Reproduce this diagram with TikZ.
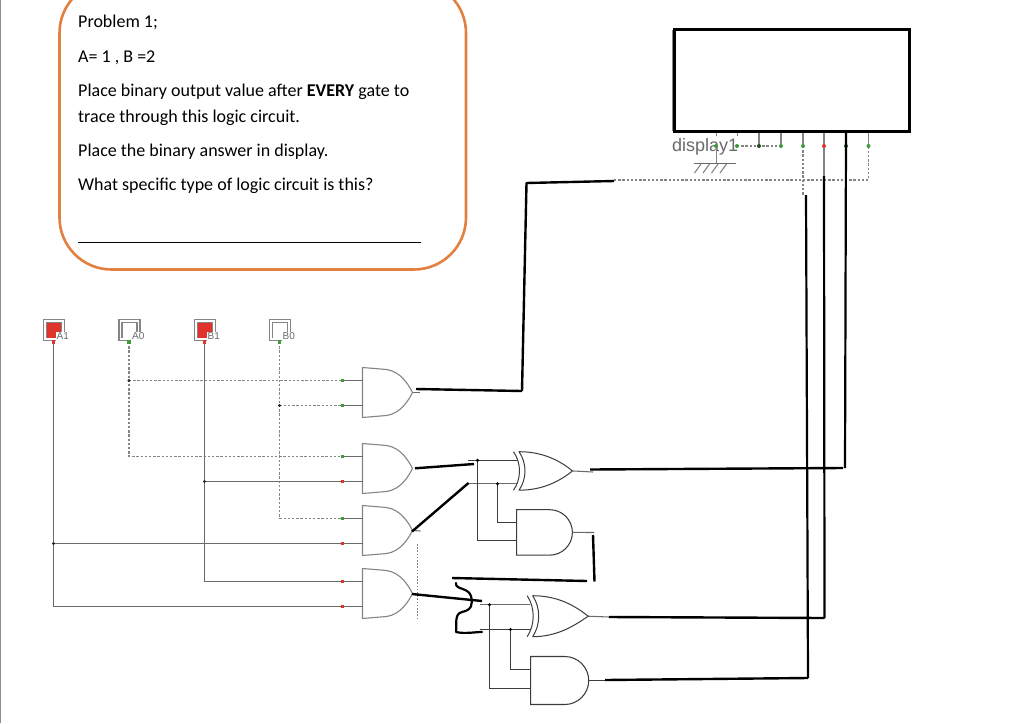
\documentclass[tikz,border=0pt]{standalone}
\usepackage{fontspec}
\setmainfont{Carlito}
\newfontfamily\lsans{Liberation Sans}
\usetikzlibrary{calc}
\definecolor{wg}{HTML}{6A6A6A}
\definecolor{gg}{HTML}{858585}
\definecolor{dg}{HTML}{3C3C3C}
\definecolor{org}{HTML}{E2803F}
\definecolor{pinr}{HTML}{E0332B}
\definecolor{ping}{HTML}{3F9A3A}
\tikzset{
  x=1pt,y=-1pt,
  wire/.style={draw=wg,line width=1.05pt},
  dwire/.style={draw=gg,line width=1.05pt,dash pattern=on 2.4pt off 1.8pt},
  thick wire/.style={draw=black,line width=2.4pt,line join=round},
  thin wire/.style={draw=dg,line width=1pt},
  txt/.style={anchor=base west,inner sep=0pt,font=\fontsize{18}{20}\selectfont},
  plabel/.style={anchor=base west,inner sep=0pt,text=wg,font=\lsans\fontsize{10}{10}\selectfont},
  pics/gand/.style={code={
    \draw[draw=gg,line width=1.1pt,line join=round] (0,0) -- (0,50) -- (24,48) .. controls (38,46) and (46,33) .. (50,25) .. controls (46,17) and (38,4) .. (24,2) -- cycle;
    \coordinate (-a) at (0,13);
    \coordinate (-b) at (0,38);
    \coordinate (-pa) at (-20,13);
    \coordinate (-pb) at (-20,38);
    \coordinate (-o) at (50,25);
    \draw[wire] (-pa) -- (-a);
    \draw[wire] (-pb) -- (-b);
  }},
  pics/xorg/.style args={#1/#2}{code={
    \draw[dg,line width=1pt,line join=round] (0,0) .. controls (24,0) and (41,9) .. (#1,{#2/2}) .. controls (41,{#2/2+10}) and (24,#2) .. (0,#2) .. controls (8,{#2*0.7}) and (8,{#2*0.3}) .. cycle;
    \draw[dg,line width=1pt] (-5.5,0) .. controls (2.5,{#2*0.3}) and (2.5,{#2*0.7}) .. (-5.5,#2);
    \coordinate (-o) at (#1,{#2/2});
  }},
  pics/dand/.style args={#1/#2}{code={
    \draw[draw=dg,line width=1.05pt] (0,0) -- (#1,0) arc[start angle=-90,end angle=90,radius=#2] -- (0,{2*#2}) -- cycle;
    \coordinate (-o) at ({#1+#2},#2);
  }},
  pics/inbox/.style args={#1/#2}{code={
    \draw[draw=gg,line width=1.3pt] (0,0) rectangle (21,21);
    \fill[white] (1,1) rectangle (20,20);
    \fill[#1] (3,3) rectangle (18,18);
    \draw[draw=gg,line width=1.3pt] (3,18) -- (3,3) -- (18,3) -- (18,13);
    \fill[white] (12,12) rectangle (26,23);
    \node[plabel] at (13,19.8) {#2};
    \coordinate (-p) at (10,22.5);
  }},
}
\begin{document}
\begin{tikzpicture}
\useasboundingbox (0,0) rectangle (1024,723);
\clip (0,0) rectangle (1024,723);
\fill[white] (0,0) rectangle (1024,723);
\fill[gray!90] (0,0) rectangle (1,723);

% problem box
\draw[org,line width=2.6pt,rounded corners=52pt] (59.5,-19) rectangle (466,269.5);
\node[txt] (t1) at (78,27.6) {Problem 1;};
\node[txt] (t2) at (78,62) {A= 1 , B =2};
\node[txt] (t3) at (78,96) {Place binary output value after \textbf{EVERY} gate to};
\node[txt] (t4) at (78,122.6) {trace through this logic circuit.};
\node[txt] (t5) at (78,156.6) {Place the binary answer in display.};
\node[txt] (t6) at (78,190.6) {What specific type of logic circuit is this?};
\coordinate (la) at (78,242.5);
\coordinate (lb) at (421,242.5);
\draw[black,line width=0.9pt] (la) -- (lb);

% inputs
\pic (A1) at (43.5,319.5) {inbox={pinr/A1}};
\pic (A0) at (119,319.5) {inbox={white/A0}};
\pic (B1) at (194.5,319.5) {inbox={pinr/B1}};
\pic (B0) at (269.5,319.5) {inbox={white/B0}};

% AND gates (left)
\pic (g1) at (362.5,367.5) {gand};
\pic (g2) at (362.5,443.5) {gand};
\pic (g3) at (362.5,505.5) {gand};
\pic (g4) at (362.5,568.5) {gand};

% junctions
\coordinate (j1) at (A0-p |- g1-a);
\coordinate (j2) at (B0-p |- g1-b);
\coordinate (j3) at (B1-p |- g2-b);
\coordinate (j4) at (A1-p |- g3-b);

\draw[dwire] (A0-p) |- (g2-pa);
\draw[dwire] (j1) -- (g1-pa);
\draw[dwire] (B0-p) |- (g3-pa);
\draw[dwire] (j2) -- (g1-pb);
\draw[wire] (B1-p) |- (g4-a);
\draw[wire] (A1-p) |- (g4-b);
\draw[wire] (j3) -- (g2-b);
\draw[wire] (j4) -- (g3-b);
\foreach \j in {j1,j2,j3,j4} \fill[black!85] (\j) circle (1.7pt);
\foreach \n/\c in {A1-p/pinr,A0-p/ping,B1-p/pinr,B0-p/ping,
  g1-pa/ping,g1-pb/ping,g2-pa/ping,g2-pb/pinr,g3-pa/ping,g3-pb/pinr,g4-pa/pinr,g4-pb/pinr}
  \fill[\c] ($(\n)+(-1.7,-1.7)$) rectangle ++(3.4,3.4);

\coordinate (dota) at (417.5,544);
\coordinate (dotb) at (417.5,619);
\draw[draw=gg,line width=0.7pt,dash pattern=on 1.6pt off 1.6pt] (dota) -- (dotb);
\coordinate (s3) at (420.5,531);
\draw[wire] (g3-o) -- (s3);
\coordinate (s1) at (420,392.5);
\draw[wire] (g1-o) -- (s1);

% right logic
\pic (x1) at (519,451.7) {xorg={53.5/38.5}};
\pic (x2) at (532.7,595.7) {xorg={55.5/41}};
\pic (d1) at (516.7,509.7) {dand={33/22.7}};
\pic (d2) at (530.7,656.5) {dand={34/24}};

\coordinate (x1a) at (468,460.3);
\coordinate (x1ae) at (517,460.3);
\coordinate (x1b) at (468,483.7);
\coordinate (x1be) at (517.5,483.7);
\coordinate (j5) at (477.5,460.3);
\coordinate (j6) at (497.5,483.7);
\coordinate (d1a) at (516.7,522.5);
\coordinate (d1b) at (516.7,540);
\draw[thin wire] (x1a) -- (x1ae);
\draw[wire] (x1b) -- (x1be);
\draw[thin wire] (j5) |- (d1b);
\draw[thin wire] (j6) |- (d1a);
\fill[black] (j5) circle (1.7pt);
\fill[black] (j6) circle (1.7pt);

\coordinate (x2a) at (480,604.7);
\coordinate (x2ae) at (530,604.7);
\coordinate (x2b) at (480,629.5);
\coordinate (x2be) at (531,629.5);
\coordinate (j7) at (489.5,604.7);
\coordinate (j8) at (510.5,629.5);
\coordinate (d2a) at (530.7,669.5);
\coordinate (d2b) at (530.7,688);
\draw[wire] (x2a) -- (x2ae);
\draw[thin wire] (x2b) -- (x2be);
\draw[thin wire] (j7) |- (d2b);
\draw[thin wire] (j8) |- (d2a);
\fill[black] (j7) circle (1.7pt);
\fill[black] (j8) circle (1.7pt);

\coordinate (x1s) at (593,472);
\coordinate (x2s) at (609,617);
\coordinate (d1s) at (594,532.5);
\coordinate (d2s) at (607,680.5);
\draw[wire] (x1-o) -- (x1s);
\draw[wire] (x2-o) -- (x2s);
\draw[wire] (d1-o) -- (d1s);
\draw[thin wire] (d2-o) -- (d2s);

% display
\coordinate (da) at (674,29);
\coordinate (db) at (909,131);
\draw[draw=black,line width=3pt] (da) rectangle (db);
\draw[draw=gg,line width=1pt] (672.3,30) -- (672.3,131);

\foreach \n/\x in {p1/716,p2/737,p3/759,p4/781,p5/803,p6/824,p7/846,p8/868.5} {
  \coordinate (\n) at (\x,146);
  \coordinate (\n t) at (\x,133);
}
\foreach \n in {p3,p4,p5,p6,p7,p8} \draw[draw=gg,line width=1.1pt] (\n t) -- (\n);
\foreach \n in {p1,p2} \draw[draw=gg,line width=1pt] (\n t) -- ++(0,2.5);
\draw[dwire] (p2) -- (p4);
\node[anchor=base west,inner sep=0pt,text=wg,font=\lsans\fontsize{18}{18}\selectfont] (dl) at (672,151) {display1};
\coordinate (gt) at (716,163.5);
\coordinate (gl) at (693.5,163.5);
\coordinate (gr) at (736,163.5);
\draw[draw=gg,line width=1pt] (p1) -- (gt);
\draw[draw=wg,line width=1pt] (gl) -- (gr);
\foreach \q in {0,1,2,3} \draw[draw=gg,line width=1.1pt] ({701+\q*8.5},164) -- ++(-6.5,9);
\coordinate (dd1) at (614,180);
\coordinate (dd2) at (868.5,180);
\draw[dwire] (dd1) -- (dd2) -- (p8);
\coordinate (dd3) at (803,195);
\draw[dwire] (p5) -- (dd3);
\coordinate (dd4) at (824,196);
\draw[draw=gg,line width=1.1pt] (p6) -- (dd4);
\foreach \n/\c in {p1/ping,p2/ping,p3/ping!50!black,p4/ping,p5/ping,p6/pinr,p7/ping!60!black,p8/ping}
  \fill[\c] (\n) circle (2pt);

% hand-drawn thick lines
\coordinate (h1) at (416,389);
\coordinate (h2) at (522,391);
\coordinate (h3) at (526.5,183);
\coordinate (h4) at (614,181);
\draw[thick wire] (h1) -- (h2);
\draw[thick wire] (h2) -- (h3) -- (h4);
\coordinate (h5) at (415,468.3);
\coordinate (h6) at (474,464);
\draw[thick wire] (h5) -- (h6);
\coordinate (h7) at (412,531.5);
\coordinate (h8) at (468.5,483);
\draw[thick wire] (h7) -- (h8);
\coordinate (h9) at (412,594);
\coordinate (h10) at (482,601);
\draw[thick wire] (h9) -- (h10);
\coordinate (h11) at (452,578);
\coordinate (h12) at (587,581);
\draw[thick wire] (h11) -- (h12);
\coordinate (h13) at (593,535);
\coordinate (h14) at (594.5,581.5);
\draw[thick wire] (h13) -- (h14);
\coordinate (h15) at (456,583);
\coordinate (h16) at (482,632);
\draw[draw=black,line width=2.2pt,line cap=round,line join=round] (h15) .. controls (455,590) and (468,587) .. (471,596) .. controls (473,604) and (472,610) .. (462,612) .. controls (454,614) and (457,624) .. (456,632) .. controls (465,634) and (475,632) .. (h16);
\coordinate (h17) at (590,469.5);
\coordinate (h18) at (843,468);
\draw[thick wire] (h17) -- (h18);
\coordinate (h19) at (846,133);
\coordinate (h20) at (845,468);
\draw[thick wire,line width=2.2pt] (h19) -- (h20);
\coordinate (h21) at (609,617);
\coordinate (h22) at (824.5,618);
\draw[thick wire] (h21) -- (h22);
\coordinate (h23) at (824,176);
\draw[thick wire,line width=2.2pt] (h23) -- (h22);
\coordinate (h24) at (605,680);
\coordinate (h25) at (808,678);
\draw[thick wire] (h24) -- (h25);
\coordinate (h26) at (806,195);
\draw[thick wire,line width=2.2pt] (h26) -- (h25);
\end{tikzpicture}
\end{document}
